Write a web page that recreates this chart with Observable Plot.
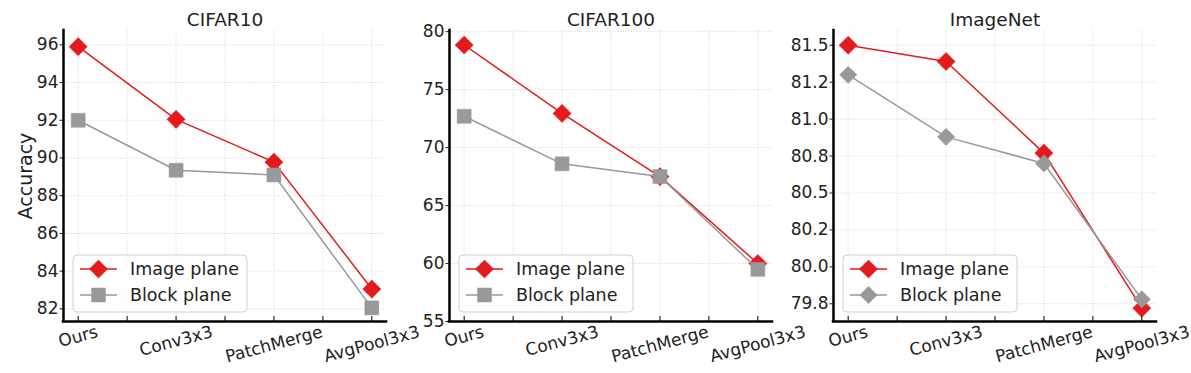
<!DOCTYPE html>
<html><head><meta charset="utf-8">
<script src="https://cdn.jsdelivr.net/npm/d3@7"></script>
<script src="https://cdn.jsdelivr.net/npm/@observablehq/plot@0.6"></script>
<style>
body{margin:0;background:#fff;}
#wrap{position:relative;width:1191px;height:373px;overflow:hidden;background:#fff;}
#wrap svg{position:absolute;top:0;overflow:visible;max-width:none;}
</style></head><body><div id="wrap"></div>
<script>
// ---- data ----
const categories = ["Ours", "Conv3x3", "PatchMerge", "AvgPool3x3"];
const seriesNames = ["Image plane", "Block plane"];
const titles = ["CIFAR10", "CIFAR100", "ImageNet"];

const cifar10Image = [95.9, 92.05, 89.78, 83.05];
const cifar10Block = [92.0, 89.35, 89.1, 82.05];
const cifar100Image = [78.85, 72.95, 67.5, 60.0];
const cifar100Block = [72.7, 68.6, 67.5, 59.5];
const imagenetImage = [81.5, 81.39, 80.77, 79.72];
const imagenetBlock = [81.3, 80.88, 80.7, 79.78];

const cifar10Ticks = [82, 84, 86, 88, 90, 92, 94, 96];
const cifar10TickLabels = ["82", "84", "86", "88", "90", "92", "94", "96"];
const cifar100Ticks = [55, 60, 65, 70, 75, 80];
const cifar100TickLabels = ["55", "60", "65", "70", "75", "80"];
const imagenetTicks = [79.75, 80.0, 80.25, 80.5, 80.75, 81.0, 81.25, 81.5];
const imagenetTickLabels = ["79.8", "80.0", "80.2", "80.5", "80.8", "81.0", "81.2", "81.5"];

const cifar10Domain = [81.33, 96.76];
const cifar100Domain = [55, 80.1];
const imagenetDomain = [79.63, 81.6];

// ---- style ----
const RED = "#e41a1c", GRAY = "#999999";
const W = 400, H = 373, mL = 63, mR = 14, mT = 30, mB = 52;
const xDomain = [-0.15, 3.15];
const xGrid = [0, 0.5, 1, 1.5, 2, 2.5, 3];
const FONT = "DejaVu Sans";
const ROT = 15;

const panels = [
  {left: 0, title: titles[0], image: cifar10Image, block: cifar10Block, ticks: cifar10Ticks, labels: cifar10TickLabels, domain: cifar10Domain, blockSymbol: "square", ylabel: "Accuracy"},
  {left: 386, title: titles[1], image: cifar100Image, block: cifar100Block, ticks: cifar100Ticks, labels: cifar100TickLabels, domain: cifar100Domain, blockSymbol: "square"},
  {left: 770, title: titles[2], image: imagenetImage, block: imagenetBlock, ticks: imagenetTicks, labels: imagenetTickLabels, domain: imagenetDomain, blockSymbol: "diamond2"}
];

const ctx = document.createElement("canvas").getContext("2d");
function measure(text, size) { ctx.font = `${size}px "${FONT}"`; return ctx.measureText(text).width; }

const tickShape = {draw(c, l) { c.moveTo(0, 0); c.lineTo(0, -l); }};
const wrap = document.getElementById("wrap");

panels.forEach(p => {
  const imgRows = categories.map((c, i) => ({i, v: p.image[i]}));
  const blkRows = categories.map((c, i) => ({i, v: p.block[i]}));
  const labelMap = new Map(p.ticks.map((t, k) => [t, p.labels[k]]));
  const s = Math.sin(ROT * Math.PI / 180), co = Math.cos(ROT * Math.PI / 180);
  const xLabels = categories.map((c, i) => {
    const w = measure(c, 17);
    const dy = 4 + (w * s + 12.4 * co) / 2;
    return Plot.text([c], {x: [i], frameAnchor: "bottom", dy, rotate: -ROT, fontSize: 17, textAnchor: "middle", lineAnchor: "middle", fill: "#222"});
  });
  const marks = [
    Plot.gridY(p.ticks, {stroke: "#c8c8c8", strokeOpacity: 1, strokeWidth: 0.8, strokeDasharray: "1,1.6"}),
    Plot.gridX(xGrid, {stroke: "#c8c8c8", strokeOpacity: 1, strokeWidth: 0.8, strokeDasharray: "1,1.6"}),
    Plot.axisY({ticks: p.ticks, tickFormat: d => labelMap.get(d), tickSize: 3.5, tickPadding: 1.5, fontSize: 17, label: null, fill: "#222"}),
    Plot.line(imgRows, {x: "i", y: "v", stroke: RED, strokeWidth: 1.5}),
    Plot.dot(imgRows, {x: "i", y: "v", symbol: "diamond2", r: 8.2, fill: RED, stroke: RED, strokeWidth: 0.5}),
    Plot.line(blkRows, {x: "i", y: "v", stroke: GRAY, strokeWidth: 1.5}),
    Plot.dot(blkRows, {x: "i", y: "v", symbol: p.blockSymbol, r: p.blockSymbol === "square" ? 7.9 : 7.8, fill: GRAY, stroke: GRAY, strokeWidth: 0.5}),
    Plot.vector(xGrid, {x: d => d, y: () => p.domain[0], length: 5, anchor: "start", rotate: 0, stroke: "#000", strokeWidth: 1, shape: tickShape}),
    Plot.ruleX([xDomain[0]], {stroke: "#000", strokeWidth: 2.5, strokeLinecap: "square"}),
    Plot.ruleY([p.domain[0]], {stroke: "#000", strokeWidth: 2.5, strokeLinecap: "square"}),
    ...xLabels,
    Plot.text([p.title], {frameAnchor: "top", dy: -10.5, fontSize: 18.5, textAnchor: "middle", lineAnchor: "middle", fill: "#222"})
  ];
  if (p.ylabel) marks.push(Plot.text([p.ylabel], {frameAnchor: "left", dx: -38, rotate: -90, fontSize: 19, textAnchor: "middle", lineAnchor: "middle", fill: "#222"}));
  const svg = Plot.plot({
    width: W, height: H, marginLeft: mL, marginRight: mR, marginTop: mT, marginBottom: mB,
    x: {type: "linear", domain: xDomain, axis: null},
    y: {type: "linear", domain: p.domain, axis: null},
    style: {fontFamily: FONT, fontSize: "17px", color: "#222", background: "transparent", overflow: "visible"},
    marks
  });
  svg.style.left = p.left + "px";
  // legend
  const g = d3.select(svg).append("g").attr("font-family", FONT).attr("font-size", 17.5).attr("fill", "#222").attr("text-anchor", "start");
  const bx = mL + 10, by = 255;
  g.append("rect").attr("x", bx).attr("y", by).attr("width", 174).attr("height", 57).attr("rx", 4)
    .attr("fill", "white").attr("fill-opacity", 0.8).attr("stroke", "#d0d0d0").attr("stroke-width", 1);
  const items = [
    {name: seriesNames[0], color: RED, sym: d3.symbolDiamond2, r: 8.2},
    {name: seriesNames[1], color: GRAY, sym: p.blockSymbol === "square" ? d3.symbolSquare : d3.symbolDiamond2, r: p.blockSymbol === "square" ? 7.9 : 7.8}
  ];
  items.forEach((it, k) => {
    const cy = 269 + k * 26;
    g.append("line").attr("x1", mL + 17).attr("x2", mL + 54).attr("y1", cy).attr("y2", cy).attr("stroke", it.color).attr("stroke-width", 1.5);
    g.append("path").attr("transform", `translate(${mL + 35.5},${cy})`).attr("d", d3.symbol(it.sym, Math.PI * it.r * it.r)()).attr("fill", it.color).attr("stroke", it.color).attr("stroke-width", 0.5);
    g.append("text").attr("x", mL + 67).attr("y", cy).attr("dy", "0.36em").attr("text-anchor", "start").text(it.name);
  });
  wrap.appendChild(svg);
});
</script>
</body></html>
